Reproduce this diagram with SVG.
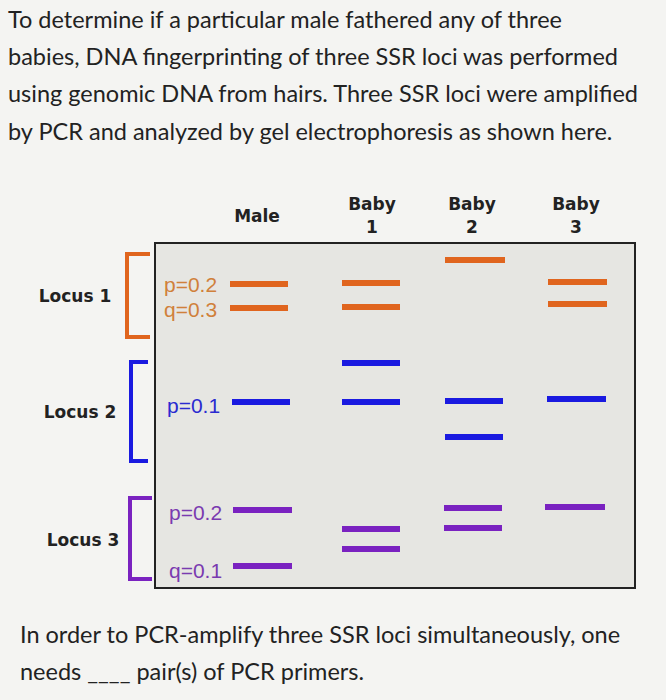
<svg xmlns="http://www.w3.org/2000/svg" width="666" height="700" viewBox="0 0 666 700">
<style>
.t{font-family:Lato,"Open Sans",sans-serif;font-size:23.5px;fill:#222}
.h{font-family:"DejaVu Sans",sans-serif;font-weight:bold;font-size:17px;fill:#222;text-anchor:middle}
.l{font-family:"Liberation Sans",Arial,sans-serif;font-size:21px}
.o{stroke:#e0651e;stroke-width:6}
.b{stroke:#1a1ae0;stroke-width:6}
.p{stroke:#7a22c0;stroke-width:6}
.br{fill:none;stroke-width:4}
</style>
<rect width="666" height="700" fill="#f4f4f2"/>
<rect x="155" y="243" width="480" height="345" fill="#e6e6e2" stroke="#222" stroke-width="2"/>
<g id="intro">
<text class="t" x="8" y="28">To determine if a particular male fathered any of three</text>
<text class="t" x="8" y="65">babies, DNA fingerprinting of three SSR loci was performed</text>
<text class="t" x="8" y="102">using genomic DNA from hairs. Three SSR loci were amplified</text>
<text class="t" x="8" y="140">by PCR and analyzed by gel electrophoresis as shown here.</text>
</g>
<g id="headers">
<text class="h" x="257" y="222">Male</text>
<text class="h" x="372" y="210">Baby</text><text class="h" x="372" y="233">1</text>
<text class="h" x="472" y="210">Baby</text><text class="h" x="472" y="233">2</text>
<text class="h" x="576" y="210">Baby</text><text class="h" x="576" y="233">3</text>
</g>
<g id="locus1">
<text class="h" x="75" y="302">Locus 1</text>
<path class="br" stroke="#e0651e" d="M150 254H127V337H150"/>
<text class="l" x="164" y="292" fill="#d0803a">p=0.2</text>
<text class="l" x="164" y="317" fill="#d0803a">q=0.3</text>
</g>
<g id="locus2">
<text class="h" x="80" y="418">Locus 2</text>
<path class="br" stroke="#1a1ae0" d="M148 362H131V461H148"/>
<text class="l" x="167" y="413" fill="#2a2ad0">p=0.1</text>
</g>
<g id="locus3">
<text class="h" x="83" y="546">Locus 3</text>
<path class="br" stroke="#7a22c0" d="M152 498H130V579H152"/>
<text class="l" x="169" y="520" fill="#7a3ab0">p=0.2</text>
<text class="l" x="169" y="578" fill="#7a3ab0">q=0.1</text>
</g>
<g id="bands">
<path class="o" d="M230 284H288M230 308H288M342 283H400M342 307H400M445 260H505M548 282H607M548 304H607"/>
<path class="b" d="M232 402H290M342 363H400M342 402H400M445 401H503M445 437H503M547 399H606"/>
<path class="p" d="M233 510H292M233 566H292M342 529H400M342 549H400M444 508H502M444 528H502M545 507H605"/>
</g>
<g id="question">
<text class="t" x="20" y="643">In order to PCR-amplify three SSR loci simultaneously, one</text>
<text class="t" x="20" y="680">needs ____ pair(s) of PCR primers.</text>
</g>
</svg>
